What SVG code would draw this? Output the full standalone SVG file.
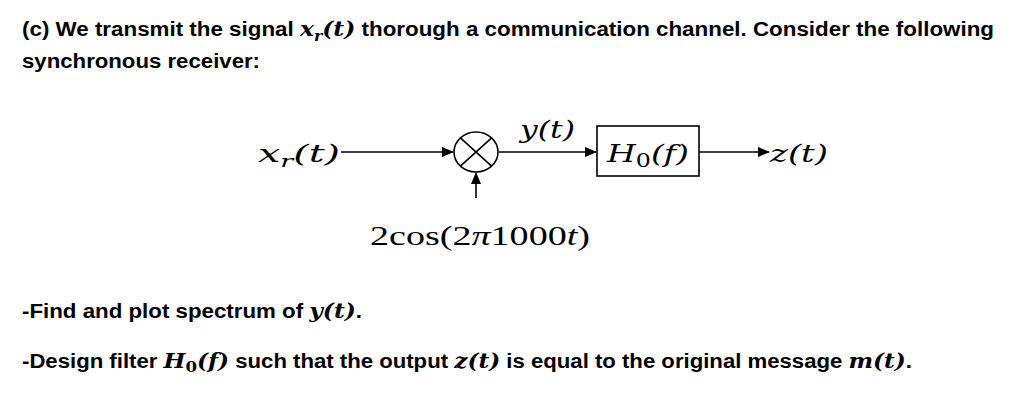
<svg xmlns="http://www.w3.org/2000/svg" width="1024" height="403" viewBox="0 0 1024 403">
<style>
.b{font-family:"Liberation Sans",Arial,sans-serif;font-weight:bold;font-size:20px;fill:#000}
.m{font-family:"DejaVu Serif","Liberation Serif",serif;font-style:italic;font-size:25px;fill:#000}
.r{font-family:"Liberation Serif","Times New Roman",serif;font-size:27px;fill:#000}
.mi{font-family:"DejaVu Serif","Liberation Serif",serif;font-style:italic;font-size:21px}
.ln{stroke:#000;stroke-width:1.6;fill:none}
</style>
<defs><marker id="a" markerWidth="12" markerHeight="10" refX="11" refY="5" orient="auto" markerUnits="userSpaceOnUse"><path d="M0,0 L12,5 L0,10 Z" fill="#000"/></marker></defs>
<rect width="1024" height="403" fill="#fff"/>
<text class="b" x="22" y="36" textLength="972" lengthAdjust="spacingAndGlyphs">(c) We transmit the signal <tspan class="mi">x<tspan font-size="14" dy="5">r</tspan><tspan dy="-5">(t)</tspan></tspan> thorough a communication channel.  Consider the following</text>
<text class="b" x="22" y="68" textLength="238" lengthAdjust="spacingAndGlyphs">synchronous receiver:</text>
<g id="in"><text class="m" x="258" y="162" textLength="82" lengthAdjust="spacingAndGlyphs">x<tspan font-size="17" dy="5">r</tspan><tspan dy="-5">(t)</tspan></text></g>
<g id="mult"><ellipse cx="476" cy="152" rx="22" ry="20" class="ln"/><path class="ln" d="M460.4,137.9 L491.6,166.1 M491.6,137.9 L460.4,166.1"/></g>
<g id="ylabel"><text class="m" x="520" y="138" textLength="55" lengthAdjust="spacingAndGlyphs">y(t)</text></g>
<g id="filter"><rect x="597" y="126" width="102" height="50" class="ln"/><text class="m" x="607" y="162" textLength="82" lengthAdjust="spacingAndGlyphs">H<tspan font-style="normal" font-size="18" dy="5">0</tspan><tspan dy="-5">(f)</tspan></text></g>
<g id="out"><text class="m" x="770" y="162" textLength="58" lengthAdjust="spacingAndGlyphs">z(t)</text></g>
<g id="osc"><text class="r" x="370" y="245" textLength="220" lengthAdjust="spacingAndGlyphs">2cos(2<tspan font-style="italic">π</tspan>1000<tspan font-style="italic">t</tspan>)</text></g>
<g id="connectors">
<line class="ln" x1="341" y1="152" x2="453" y2="152" marker-end="url(#a)"/>
<line class="ln" x1="499" y1="152" x2="596" y2="152" marker-end="url(#a)"/>
<line class="ln" x1="699" y1="152" x2="769" y2="152" marker-end="url(#a)"/>
<line class="ln" x1="476" y1="198" x2="476" y2="173" marker-end="url(#a)"/>
</g>
<text class="b" x="22" y="318" textLength="340" lengthAdjust="spacingAndGlyphs">-Find and plot spectrum of <tspan class="mi">y(t)</tspan>.</text>
<text class="b" x="22" y="368" textLength="890" lengthAdjust="spacingAndGlyphs">-Design filter <tspan class="mi">H<tspan font-style="normal" font-size="15" dy="4">0</tspan><tspan dy="-4">(f)</tspan></tspan> such that the output <tspan class="mi">z(t)</tspan> is equal to the original message <tspan class="mi">m(t)</tspan>.</text>
</svg>
